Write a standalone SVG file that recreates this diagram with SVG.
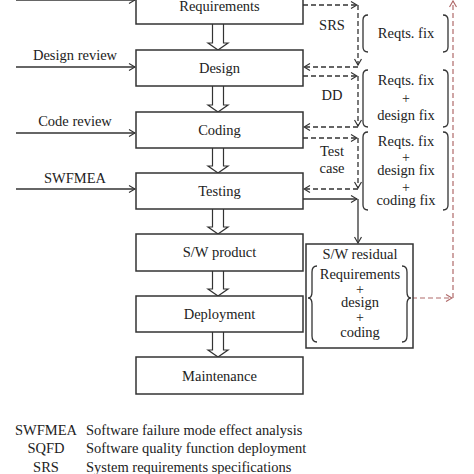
<svg xmlns="http://www.w3.org/2000/svg" width="474" height="474" viewBox="0 0 474 474">
<style>
text{font-family:"Liberation Serif","DejaVu Serif","Times New Roman",serif;font-size:14.5px;fill:#222;text-anchor:middle}
.pl{font-size:14px}
.box{fill:#fff;stroke:#333;stroke-width:1.5}
.ln{fill:none;stroke:#333;stroke-width:1.3}
.ds{fill:none;stroke:#333;stroke-width:1.3;stroke-dasharray:5,3}
.rd{fill:none;stroke:#b06a6a;stroke-width:1.2;stroke-dasharray:5,3}
.br{fill:none;stroke:#333;stroke-width:1.3}
.ha{fill:#fff;stroke:#333;stroke-width:1.2;stroke-linejoin:miter}
.lg{text-anchor:start}
</style>
<defs>
<marker id="a" viewBox="0 0 8 8" refX="7" refY="4" markerWidth="8" markerHeight="8" markerUnits="userSpaceOnUse" orient="auto">
<path d="M1,0.5 L7,4 L1,7.5" fill="none" stroke="#333" stroke-width="1.2"/>
</marker>
<marker id="r" viewBox="0 0 8 8" refX="7" refY="4" markerWidth="8" markerHeight="8" markerUnits="userSpaceOnUse" orient="auto">
<path d="M1,0.5 L7,4 L1,7.5" fill="none" stroke="#b06a6a" stroke-width="1.2"/>
</marker>
</defs>

<g id="connectors">
<path class="ln" d="M16,0 L135,0" marker-end="url(#a)"/>
<path class="ln" d="M16,67 L135,67" marker-end="url(#a)"/>
<path class="ln" d="M16,133 L135,133" marker-end="url(#a)"/>
<path class="ln" d="M16,189 L135,189" marker-end="url(#a)"/>
<path class="ha" d="M212.5,24 L212.5,43 L208,43 L218,50 L228,43 L223.5,43 L223.5,24"/>
<path class="ha" d="M212.5,86 L212.5,105 L208,105 L218,112 L228,105 L223.5,105 L223.5,86"/>
<path class="ha" d="M212.5,148 L212.5,166 L208,166 L218,173 L228,166 L223.5,166 L223.5,148"/>
<path class="ha" d="M212.5,209 L212.5,227 L208,227 L218,234 L228,227 L223.5,227 L223.5,209"/>
<path class="ha" d="M212.5,271 L212.5,289 L208,289 L218,296 L228,289 L223.5,289 L223.5,271"/>
<path class="ha" d="M212.5,332 L212.5,350 L208,350 L218,357 L228,350 L223.5,350 L223.5,332"/>
<path class="ds" d="M303,5 L357,5" marker-end="url(#a)"/>
<path class="ds" d="M358,5 L358,65" marker-end="url(#a)"/>
<path class="ds" d="M358,67 L304,67" marker-end="url(#a)"/>
<path class="ds" d="M303,76 L357,76" marker-end="url(#a)"/>
<path class="ds" d="M358,76 L358,126" marker-end="url(#a)"/>
<path class="ds" d="M358,127 L304,127" marker-end="url(#a)"/>
<path class="ds" d="M303,138 L357,138" marker-end="url(#a)"/>
<path class="ds" d="M358,138 L358,188" marker-end="url(#a)"/>
<path class="ds" d="M358,189 L304,189" marker-end="url(#a)"/>
<path class="ln" d="M303,199 L357,199" marker-end="url(#a)"/>
<path class="ln" d="M358,199 L358,243" marker-end="url(#a)"/>
<path class="rd" d="M412,298 L452,298" marker-end="url(#r)"/>
<path class="rd" d="M453,298 L453,1" marker-end="url(#r)"/>
</g>

<g id="requirements"><rect class="box" x="136" y="-12" width="167" height="36"/><text x="219.5" y="11">Requirements</text></g>
<g id="design"><rect class="box" x="136" y="50" width="167" height="36"/><text x="219.5" y="73">Design</text></g>
<g id="coding"><rect class="box" x="136" y="112" width="167" height="36"/><text x="219.5" y="135">Coding</text></g>
<g id="testing"><rect class="box" x="136" y="173" width="167" height="36"/><text x="219.5" y="196">Testing</text></g>
<g id="swproduct"><rect class="box" x="136" y="234" width="167" height="37"/><text x="219.5" y="257">S/W product</text></g>
<g id="deployment"><rect class="box" x="136" y="296" width="167" height="36"/><text x="219.5" y="319">Deployment</text></g>
<g id="maintenance"><rect class="box" x="136" y="357" width="167" height="37"/><text x="219.5" y="381">Maintenance</text></g>

<g id="input-labels">
<text x="75" y="60">Design review</text>
<text x="75" y="126">Code review</text>
<text x="75" y="183">SWFMEA</text>
</g>

<g id="doc-labels">
<text x="332" y="30">SRS</text>
<text x="332" y="100">DD</text>
<text x="332" y="156">Test</text>
<text x="332" y="173">case</text>
</g>

<g id="fix1">
<path class="br" d="M368,15 Q363,15 363,20 L363,47 Q363,52 368,52"/>
<path class="br" d="M443,15 Q448,15 448,20 L448,47 Q448,52 443,52"/>
<text x="406" y="38">Reqts. fix</text>
</g>
<g id="fix2">
<path class="br" d="M368,70 Q363,70 363,75 L363,122 Q363,127 368,127"/>
<path class="br" d="M443,70 Q448,70 448,75 L448,122 Q448,127 443,127"/>
<text x="406" y="85">Reqts. fix</text>
<text class="pl" x="406" y="103">+</text>
<text x="406" y="120">design fix</text>
</g>
<g id="fix3">
<path class="br" d="M368,132 Q363,132 363,137 L363,205 Q363,210 368,210"/>
<path class="br" d="M443,132 Q448,132 448,137 L448,205 Q448,210 443,210"/>
<text x="406" y="146">Reqts. fix</text>
<text class="pl" x="406" y="162">+</text>
<text x="406" y="175">design fix</text>
<text class="pl" x="406" y="192">+</text>
<text x="406" y="205">coding fix</text>
</g>

<g id="residual">
<rect class="box" x="306" y="244" width="107" height="104"/>
<text x="360" y="259">S/W residual</text>
<path class="br" d="M317,266 Q312,266 312,272 L312,292 Q312,298 308,298 Q312,298 312,304 L312,336 Q312,342 317,342"/>
<path class="br" d="M402,266 Q407,266 407,272 L407,292 Q407,298 411,298 Q407,298 407,304 L407,336 Q407,342 402,342"/>
<text x="360" y="279">Requirements</text>
<text class="pl" x="360" y="294">+</text>
<text x="360" y="307">design</text>
<text class="pl" x="360" y="322">+</text>
<text x="360" y="337">coding</text>
</g>

<g id="legend">
<text x="46" y="435">SWFMEA</text>
<text class="lg" x="86" y="435">Software failure mode effect analysis</text>
<text x="46" y="453">SQFD</text>
<text class="lg" x="86" y="453">Software quality function deployment</text>
<text x="46" y="472">SRS</text>
<text class="lg" x="86" y="472">System requirements specifications</text>
</g>
</svg>
